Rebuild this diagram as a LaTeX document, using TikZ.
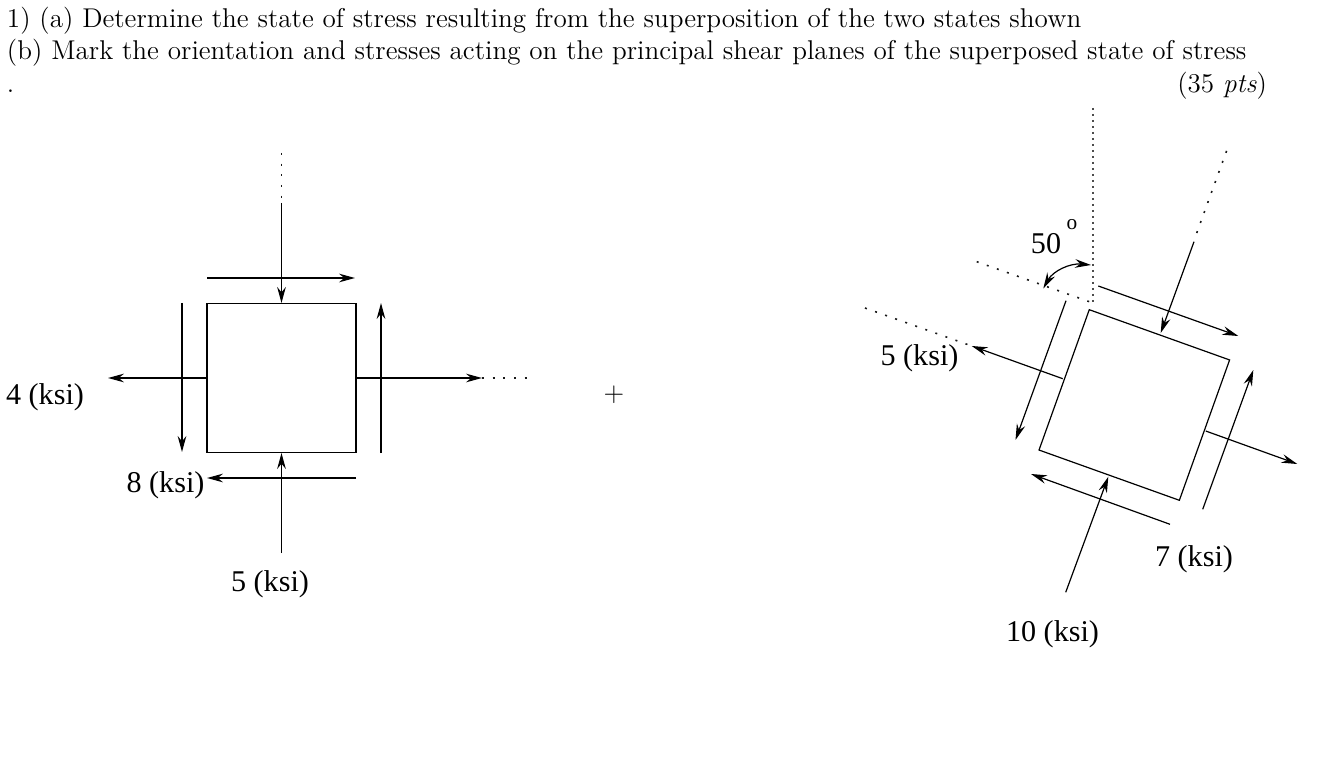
\documentclass[tikz,border=0pt]{standalone}
\usepackage{fontspec}
\usetikzlibrary{arrows.meta}
\newfontfamily\lblfont{Liberation Serif}
\tikzset{
  every node/.style={inner sep=0pt,outer sep=0pt},
  line/.style={line width=0.9pt,black},
  arr/.style={line,-{Stealth[length=12pt,width=6.5pt,inset=4pt]}},
  dotline/.style={line width=1.2pt,black!90,dash pattern=on 1.5pt off 6.5pt},
  dotdense/.style={line width=1.2pt,black!70,dash pattern=on 1.5pt off 3pt},
  lbl/.style={font=\lblfont\fontsize{22.6}{26}\selectfont,anchor=base},
  title/.style={font=\fontsize{12}{14}\selectfont,scale=1.696,anchor=base west},
  sqA/.style={draw,line,minimum size=111.8pt},
  sqB/.style={draw,line,minimum size=111.8pt,rotate=-19.7}
}
\begin{document}
\begin{tikzpicture}[x=0.75pt,y=-0.75pt]
\useasboundingbox (0,0) rectangle (1334,762);
% text
\node[title] (t1) at (7,27.5) {1) (a) Determine the state of stress resulting from the superposition of the two states shown};
\node[title] (t2) at (7,59.5) {(b) Mark the orientation and stresses acting on the principal shear planes of the superposed state of stress};
\node[title] (t3) at (7,92.5) {.};
\node[title,anchor=base east] (t4) at (1267,92.5) {(35 \textit{pts})};
% left square
\node[sqA] (A) at (281.5,378) {};
\coordinate (Atop) at (281.5,303);
\coordinate (Abot) at (281.5,453);
\coordinate (Al) at (207,378);
\coordinate (Ar) at (356,378);
\coordinate (An1) at (281.5,203);
\coordinate (An1d) at (281.5,153);
\coordinate (An1e) at (281.5,199);
\coordinate (An2) at (281.5,553);
\coordinate (An3) at (108,378);
\coordinate (An4) at (482,378);
\coordinate (An4d) at (532,378);
\coordinate (As1a) at (207,278);
\coordinate (As1b) at (355,278);
\coordinate (As2a) at (381,453);
\coordinate (As2b) at (381,303);
\coordinate (As3a) at (182,303);
\coordinate (As3b) at (182,452);
\coordinate (As4a) at (356,478);
\coordinate (As4b) at (207,478);
\draw[arr] (An1) -- (Atop);
\draw[arr] (An2) -- (Abot);
\draw[arr] (Al) -- (An3);
\draw[arr] (Ar) -- (An4);
\draw[arr] (As1a) -- (As1b);
\draw[arr] (As2a) -- (As2b);
\draw[arr] (As3a) -- (As3b);
\draw[arr] (As4a) -- (As4b);
\draw[dotline] (An1d) -- (An1e);
\draw[dotline] (An4) -- (An4d);
% right square
\node[sqB] (B) at (1134.3,405) {};
\coordinate (Bn1a) at (1194,241.7);
\coordinate (Bn1b) at (1160.7,333);
\coordinate (Bn1c) at (1196.7,233);
\coordinate (Bn1d) at (1228,147);
\coordinate (Bs1a) at (1098.3,286);
\coordinate (Bs1b) at (1238.3,336);
\coordinate (V0) at (1093,108);
\coordinate (V1) at (1093,303);
\coordinate (S0) at (976.7,261.7);
\coordinate (Bn2a) at (1062.7,378.7);
\coordinate (Bn2b) at (971.7,346);
\coordinate (Bn2c) at (865,308);
\coordinate (Bs2a) at (1066,300.7);
\coordinate (Bs2b) at (1015.5,440);
\coordinate (Bs3a) at (1202.7,509.3);
\coordinate (Bs3b) at (1253.3,370);
\coordinate (Bn3a) at (1205.7,431);
\coordinate (Bn3b) at (1297.3,464);
\coordinate (Bs4a) at (1170,524.3);
\coordinate (Bs4b) at (1031,474);
\coordinate (Bn4a) at (1065.7,592.3);
\coordinate (Bn4b) at (1108.3,476.7);
\coordinate (Ca) at (1091,265);
\coordinate (Cb) at (1043.3,288.5);
\draw[dotdense] (V0) -- (V1);
\draw[dotline] (S0) -- (V1);
\draw[dotline] (Bn1c) -- (Bn1d);
\draw[dotline] (Bn2c) -- (Bn2b);
\draw[arr] (Bn1a) -- (Bn1b);
\draw[arr] (Bs1a) -- (Bs1b);
\draw[arr] (Bn2a) -- (Bn2b);
\draw[arr] (Bs2a) -- (Bs2b);
\draw[arr] (Bs3a) -- (Bs3b);
\draw[arr] (Bn3a) -- (Bn3b);
\draw[arr] (Bs4a) -- (Bs4b);
\draw[arr] (Bn4a) -- (Bn4b);
\draw[line,{Stealth[length=12pt,width=6.5pt,inset=4pt]}-{Stealth[length=12pt,width=6.5pt,inset=4pt]}] (Ca) .. controls (1070,263) and (1053,271) .. (Cb);
% labels
\node[lbl] (L1) at (45,405) {4 (ksi)};
\node[lbl] (L2) at (165.5,492) {8 (ksi)};
\node[lbl] (L3) at (270,591) {5 (ksi)};
\node[font=\fontsize{12}{14}\selectfont,scale=1.696] (plus) at (614,394.5) {+};
\node[lbl] (L4) at (919.5,366) {5 (ksi)};
\node[lbl] (L5) at (1046,254) {50};
\node[lbl,font=\lblfont\fontsize{16}{18}\selectfont] (L6) at (1072,230) {o};
\node[lbl] (L7) at (1194,566) {7 (ksi)};
\node[lbl] (L8) at (1052.5,641) {10 (ksi)};
\end{tikzpicture}
\end{document}
